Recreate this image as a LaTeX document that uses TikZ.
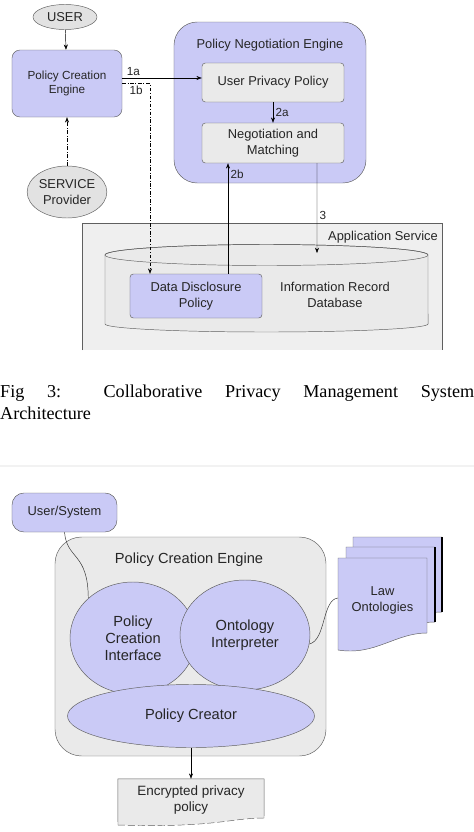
\documentclass[tikz,border=0pt]{standalone}
\usepackage{xcolor}
\usepackage{fontspec}
\setmainfont{Liberation Serif}
\newfontfamily\labelfont{Liberation Sans}
\usetikzlibrary{arrows.meta,shapes.geometric}

\definecolor{lavender}{RGB}{202,202,246}
\definecolor{boxgray}{RGB}{234,234,234}
\definecolor{ovalgray}{RGB}{226,226,226}
\definecolor{appgray}{RGB}{239,239,239}
\definecolor{edgegray}{RGB}{95,95,95}

\tikzset{
  lbl/.style={font=\labelfont\fontsize{11}{13.5}\selectfont, align=center, inner sep=0pt, text=black!85},
  small/.style={font=\labelfont\fontsize{10}{12}\selectfont, inner sep=2pt, text=black!85},
  big/.style={font=\labelfont\fontsize{12.5}{14.5}\selectfont, align=center, inner sep=0pt, text=black!85},
  box/.style={lbl, draw=edgegray, thin},
  oval/.style={box, ellipse, fill=ovalgray},
  circ/.style={big, ellipse, draw=edgegray, thin, fill=lavender},
  arr/.style={-{Stealth[length=1.6mm,width=1.2mm]}, thin},
  dashdot/.style={dash pattern=on 3pt off 1.5pt on 0.8pt off 1.5pt},
  conn/.style={thin, black!80}
}

\begin{document}
\begin{tikzpicture}[x=0.03cm,y=-0.03cm]
  \useasboundingbox (0,0) rectangle (474,832);

  % top figure
  \node[oval, minimum width=1.92cm, minimum height=0.75cm] (user) at (65,17) {USER};
  \node[box, fill=lavender, rounded corners=0.24cm, minimum width=3.3cm, minimum height=2.01cm,
        font=\labelfont\fontsize{10}{12}\selectfont] (pce) at (67,83.5) {Policy Creation\\Engine};
  \node[oval, minimum width=1.95cm, minimum height=1.56cm] (svc) at (67,192) {SERVICE\\Provider};

  \node[box, fill=lavender, rounded corners=0.7cm, minimum width=5.76cm, minimum height=4.83cm] (pne) at (270,102.5) {};
  \node[lbl] (pnetitle) at (270,45) {Policy Negotiation Engine};
  \node[box, fill=boxgray, rounded corners=0.1cm, minimum width=4.26cm, minimum height=1.17cm] (upp) at (273,82.5) {User Privacy Policy};
  \node[box, fill=boxgray, rounded corners=0.1cm, minimum width=4.26cm, minimum height=1.2cm] (nam) at (273,143) {Negotiation and\\Matching};

  \fill[appgray] (82,223) rectangle (442,350);
  \draw[edgegray, thin] (82,350) -- (82,223) -- (442,223) -- (442,350);
  \node[lbl, anchor=east] (appsvc) at (438,237) {Application Service};

  \filldraw[fill=boxgray, draw=edgegray, thin] (105,255) -- (105,324)
    arc[start angle=180, end angle=360, x radius=4.845cm, y radius=0.24cm]
    -- (428,255) arc[start angle=0, end angle=180, x radius=4.845cm, y radius=0.315cm] -- cycle;
  \draw[edgegray, thin] (266.5,255) ellipse[x radius=4.845cm, y radius=0.315cm];
  \node[lbl] (db) at (335,295) {Information Record\\Database};
  \node[box, fill=lavender, rounded corners=0.1cm, minimum width=3.96cm, minimum height=1.32cm] (ddp) at (196,296) {Data Disclosure\\Policy};

  \draw[arr] (user) -- (pce);
  \draw[arr, dashdot] (svc) -- (pce);
  \coordinate (s1a) at ([yshift=0.165cm]pce.east);
  \draw[arr] (s1a) -- (s1a -| upp.west) node[small, pos=0.14, above] {1a};
  \coordinate (k1b) at (150,83.5);
  \draw[arr, dashdot] (pce.east) -- node[small, below] {1b} (k1b) -- (k1b |- ddp.north);
  \draw[arr] (upp) -- node[small, right] {2a} (nam);
  \coordinate (b2) at ([xshift=0.96cm]ddp.north);
  \draw[arr] (b2) -- (b2 |- nam.south) node[small, pos=0.9, right] {2b};
  \coordinate (m3) at ([xshift=1.32cm]nam.south);
  \coordinate (dbtop) at (317,253);
  \draw[arr] (m3) -- (dbtop) node[small, pos=0.58, right] {3};

  % caption
  \node[anchor=north west, inner sep=0pt, text width=14.22cm, align=justify,
        font=\fontsize{15.5}{18.5}\selectfont] (caption) at (0,384.5)
        {Fig 3: Collaborative Privacy Management System\linebreak Architecture};
  \draw[black!5, line width=1pt] (0,466) -- (474,466);

  % bottom figure
  \node[box, fill=lavender, rounded corners=0.36cm, minimum width=3.15cm, minimum height=1.17cm] (usys) at (64.5,512.5) {User/System};
  \node[box, fill=boxgray, rounded corners=0.8cm, minimum width=8.13cm, minimum height=6.57cm] (pcebig) at (190.5,646.5) {};
  \node[big] (pcetitle) at (189,560) {Policy Creation Engine};
  \node[circ, minimum width=3.78cm, minimum height=3.36cm] (pci) at (133,638) {Policy\\Creation\\Interface};
  \node[circ, minimum width=3.9cm, minimum height=3.3cm] (oi) at (245,635) {Ontology\\Interpreter};
  \node[circ, minimum width=7.41cm, minimum height=1.89cm] (pcr) at (191,716) {Policy Creator};

  \foreach \dx/\dy in {15/-21, 8/-11} {
    \filldraw[fill=lavender, draw=edgegray, thin, shift={(\dx,\dy)}] (338,558) -- (427,558) -- (427,633)
      .. controls (395,633) and (375,656) .. (338,650) -- cycle;
    \draw[black, line width=1.3pt, shift={(\dx,\dy)}] (427,558) -- (427,633);
  }
  \filldraw[fill=lavender, draw=edgegray, thin] (338,558) -- (427,558) -- (427,633)
    .. controls (395,633) and (375,656) .. (338,650) -- cycle;
  \node[lbl, minimum width=2.67cm, minimum height=2.85cm] (law) at (382.5,600) {Law\\Ontologies};

  \node[lbl, minimum width=4.38cm, minimum height=1.38cm] (enc) at (191,802) {};
  \fill[boxgray] (enc.north west) -- (enc.north east) -- (264,818) .. controls (230,818) and (215,828) .. (118,825) -- cycle;
  \draw[edgegray, thin] (118,825) -- (enc.north west) -- (enc.north east) -- (264,818);
  \draw[edgegray, thin, dash pattern=on 6pt off 2.5pt] (264,818) .. controls (230,818) and (215,828) .. (118,825);
  \node[lbl, font=\labelfont\fontsize{11.5}{13}\selectfont] (enctext) at (191,800) {Encrypted privacy\\policy};

  \draw[conn] (usys.south) .. controls (67,560) and (88,552) .. (pci.north west);
  \draw[conn] (oi.-8) .. controls (326,640) and (322,600) .. ([yshift=0.06cm]law.west);
  \draw[arr] (pcr) -- (enc);
\end{tikzpicture}
\end{document}
